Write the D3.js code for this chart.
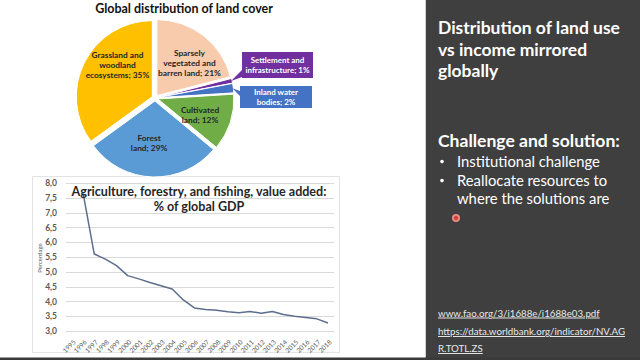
<!DOCTYPE html>
<html><head><meta charset="utf-8">
<script src="https://cdn.jsdelivr.net/npm/d3@7"></script>
<style>
body{margin:0;background:#fff}
svg{display:block}
text{font-family:Lato,"Open Sans",sans-serif}
</style>
</head><body>
<svg id="c" width="640" height="360"></svg>
<script>
// ---------- DATA ----------
const landCategories = ["Sparsely vegetated and barren land","Settlement and infrastructure","Inland water bodies","Cultivated land","Forest land","Grassland and woodland ecosystems"];
const landShares = [21, 1, 2, 12, 29, 35];
const landNameLines = [["Sparsely","vegetated and","barren land"],["Settlement and","infrastructure"],["Inland water","bodies"],["Cultivated","land"],["Forest","land"],["Grassland and","woodland","ecosystems"]];
const landColors = ["#F8CBAD","#7030A0","#4472C4","#70AD47","#5B9BD5","#FFC000"];

const years = ["1995","1996","1997","1998","1999","2000","2001","2002","2003","2004","2005","2006","2007","2008","2009","2010","2011","2012","2013","2014","2015","2016","2017","2018"];
const agriShare = [null, 7.65, 5.60, 5.43, 5.21, 4.87, 4.76, 4.64, 4.53, 4.42, 4.05, 3.78, 3.73, 3.70, 3.65, 3.62, 3.66, 3.60, 3.66, 3.56, 3.50, 3.46, 3.41, 3.27];
const yTickValues = [3.0, 3.5, 4.0, 4.5, 5.0, 5.5, 6.0, 6.5, 7.0, 7.5, 8.0];

const pieTitle = "Global distribution of land cover";
const lineTitle = ["Agriculture, forestry, and fishing, value added:", "% of global GDP"];
const yAxisTitle = "Percentage";
const panelHeading = ["Distribution of land use", "vs income mirrored", "globally"];
const panelSub = "Challenge and solution:";
const panelBullets = [["Institutional challenge"], ["Reallocate resources to", "where the solutions are"]];
const panelLinks = [["www.fao.org/3/i1688e/i1688e03.pdf"], ["https://data.worldbank.org/indicator/NV.AG", "R.TOTL.ZS"]];

// ---------- helpers ----------
const svg = d3.select("#c");
function fitSize(node, w){
  const l = node.getComputedTextLength();
  const fs = parseFloat(node.getAttribute("font-size"));
  return fs * w / l;
}

// ---------- background / panel ----------
svg.append("rect").attr("x",0).attr("y",0).attr("width",640).attr("height",360).attr("fill","#ffffff");
svg.append("rect").attr("x",426).attr("y",0).attr("width",214).attr("height",358).attr("fill","#3f3f3f");
svg.append("line").attr("x1",425.5).attr("x2",425.5).attr("y1",0).attr("y2",358).attr("stroke","#cfcfcf");
svg.append("rect").attr("x",0).attr("y",357.5).attr("width",640).attr("height",2.5).attr("fill","#3a3a3a");

// ---------- line chart ----------
const x = d3.scalePoint().domain(years).range([72, 328]);
const y = d3.scaleLinear().domain([3, 8]).range([331, 183]);

svg.append("rect").attr("x",32.5).attr("y",176.5).attr("width",307).attr("height",176)
  .attr("fill","#fff").attr("stroke","#e3e3e3");

svg.append("g").selectAll("line").data(yTickValues).join("line")
  .attr("x1",66).attr("x2",334).attr("y1",d=>Math.round(y(d))+0.5).attr("y2",d=>Math.round(y(d))+0.5)
  .attr("stroke","#d9d9d9").attr("stroke-width",1);

const fmt = d => d3.format(".1f")(d).replace(".", ",");
const yAx = svg.append("g").attr("transform","translate(60,0)")
  .call(d3.axisLeft(y).tickValues(yTickValues).tickFormat(fmt).tickSize(0).tickPadding(3));
yAx.select(".domain").remove();
yAx.selectAll("text").attr("font-family","Lato, sans-serif").attr("font-size",8.5).attr("font-weight","bold").attr("fill","#595959");

const xAx = svg.append("g").attr("transform","translate(0,338)")
  .call(d3.axisBottom(x).tickSize(0));
xAx.select(".domain").remove();
xAx.selectAll("text").attr("font-family","Lato, sans-serif").attr("font-size",6.5).attr("fill","#595959")
  .attr("x",0).attr("y",0).attr("dy","0.35em").attr("text-anchor","end")
  .attr("transform","translate(2,3) rotate(-45)");

svg.append("text").attr("transform","translate(42,258) rotate(-90)").attr("text-anchor","middle")
  .attr("font-size",6).attr("fill","#595959").text(yAxisTitle);

const line = d3.line().defined(d => d != null).x((d,i) => x(years[i])).y(d => y(d));
svg.append("path").datum(agriShare).attr("d", line).attr("fill","none")
  .attr("stroke","#5d6f8d").attr("stroke-width",1.5).attr("stroke-linejoin","round");

const lt = svg.append("g");
const lt1 = lt.append("text").attr("x",199).attr("y",196).attr("text-anchor","middle").attr("font-size",13)
  .attr("font-weight","bold").attr("fill","#262626").text(lineTitle[0]);
const ltSize = fitSize(lt1.node(), 255);
lt1.attr("font-size", ltSize);
lt.append("text").attr("x",199).attr("y",211).attr("text-anchor","middle").attr("font-size",ltSize)
  .attr("font-weight","bold").attr("fill","#262626").text(lineTitle[1]);

// ---------- pie ----------
const R = 76, cx = 155, cy = 98;
const arcs = d3.pie().sort(null).value(d => d)(landShares);
const arc = d3.arc().innerRadius(0).outerRadius(R);
const pg = svg.append("g").attr("transform",`translate(${cx},${cy})`);
const mid = d => (d.startAngle + d.endAngle) / 2;
pg.selectAll("path").data(arcs).join("path")
  .attr("d", arc).attr("fill",(d,i) => landColors[i])
  .attr("stroke","#fff").attr("stroke-width",1)
  .attr("transform", d => `translate(${Math.sin(mid(d))*3},${-Math.cos(mid(d))*3})`);

const pt = svg.append("text").attr("x",184).attr("y",13).attr("text-anchor","middle").attr("font-size",13)
  .attr("font-weight","bold").attr("fill","#111").text(pieTitle);
pt.attr("font-size", fitSize(pt.node(), 178));

// inside labels
const inside = [0,3,4,5];
const labelR = {0:49, 3:48, 4:45, 5:50};
const labelRot = {0:0.12, 3:0.04, 4:0.1, 5:0.25};
let pieLabelSize = null;
{
  const probe = svg.append("text").attr("font-size",8).attr("font-weight","bold").text(landNameLines[5][0]);
  pieLabelSize = fitSize(probe.node(), 52);
  probe.remove();
}
inside.forEach(i => {
  const d = arcs[i];
  const a = mid(d) + labelRot[i];
  const px = cx + Math.sin(a)*labelR[i], py = cy - Math.cos(a)*labelR[i];
  const lines = landNameLines[i].slice();
  lines[lines.length-1] += "; " + landShares[i] + "%";
  const lh = pieLabelSize*1.2;
  const t = svg.append("text").attr("text-anchor","middle").attr("font-size",pieLabelSize)
    .attr("font-weight","bold").attr("fill","#262626");
  lines.forEach((s,k) => t.append("tspan").attr("x",px).attr("y",py + (k - (lines.length-1)/2)*lh + pieLabelSize*0.35).text(s));
});

// callouts
const callouts = [{i:1, box:[242,52,71,26], tip:[[242,70],[242,77]]},
                  {i:2, box:[240,86,72,22], tip:[[240,91],[240,96]]}];
let calloutSize = null;
{
  const probe = svg.append("text").attr("font-size",8).attr("font-weight","bold").text("infrastructure; 1%");
  calloutSize = fitSize(probe.node(), 64);
  probe.remove();
}
callouts.forEach(c => {
  const d = arcs[c.i];
  const a = mid(d);
  const ax = cx + Math.sin(a)*(R+2), ay = cy - Math.cos(a)*(R+2);
  svg.append("path").attr("d", `M${c.tip[0][0]},${c.tip[0][1]}L${c.tip[1][0]},${c.tip[1][1]}L${ax},${ay}Z`)
    .attr("fill", landColors[c.i]);
  svg.append("rect").attr("x",c.box[0]).attr("y",c.box[1]).attr("width",c.box[2]).attr("height",c.box[3])
    .attr("fill", landColors[c.i]);
  const lines = landNameLines[c.i].slice();
  lines[lines.length-1] += "; " + landShares[c.i] + "%";
  const t = svg.append("text").attr("text-anchor","middle").attr("font-size",calloutSize)
    .attr("font-weight","bold").attr("fill","#fff");
  const bx = c.box[0] + c.box[2]/2, by = c.box[1] + c.box[3]/2;
  lines.forEach((s,k) => t.append("tspan").attr("x",bx).attr("y",by + (k-(lines.length-1)/2)*calloutSize*1.2 + calloutSize*0.35).text(s));
});

// ---------- right panel text ----------
const hp = svg.append("g").attr("fill","#fff").attr("font-weight","bold");
const h0 = hp.append("text").attr("x",438).attr("y",34).attr("font-size",17).text(panelHeading[0]);
const hSize = fitSize(h0.node(), 182);
h0.attr("font-size", hSize);
panelHeading.slice(1).forEach((s,k) => hp.append("text").attr("x",438).attr("y",34 + (k+1)*21.5).attr("font-size",hSize).text(s));
const sub = hp.append("text").attr("x",438).attr("y",146.5).attr("font-size",17).text(panelSub);
sub.attr("font-size", fitSize(sub.node(), 182));

const bl = svg.append("g").attr("fill","#fff");
const b0 = bl.append("text").attr("x",457).attr("y",166.5).attr("font-size",14).text(panelBullets[0][0]);
const bSize = fitSize(b0.node(), 143);
b0.attr("font-size", bSize);
bl.append("text").attr("x",457).attr("y",185.5).attr("font-size",bSize).text(panelBullets[1][0]);
bl.append("text").attr("x",457).attr("y",204).attr("font-size",bSize).text(panelBullets[1][1]);
[166.5,185.5].forEach(yy => bl.append("circle").attr("cx",442).attr("cy",yy - bSize*0.33).attr("r",1.8).attr("fill","#fff"));

svg.append("circle").attr("cx",456).attr("cy",218).attr("r",4).attr("fill","#e88a84");
svg.append("circle").attr("cx",456).attr("cy",218).attr("r",2).attr("fill","#d23a34");

const lk = svg.append("g").attr("fill","#e8e8e8").attr("text-decoration","underline");
const l0 = lk.append("text").attr("x",438).attr("y",316.5).attr("font-size",10.5).text(panelLinks[0][0]);
const lSize = fitSize(l0.node(), 162);
l0.attr("font-size", lSize);
lk.append("text").attr("x",438).attr("y",335).attr("font-size",lSize).text(panelLinks[1][0]);
lk.append("text").attr("x",438).attr("y",352).attr("font-size",lSize).text(panelLinks[1][1]);
</script>
</body></html>
